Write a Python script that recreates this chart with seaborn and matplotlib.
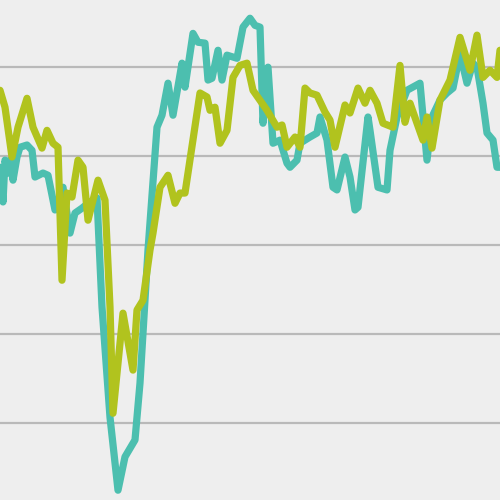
import numpy as np
import pandas as pd
import matplotlib
matplotlib.use("Agg")
import matplotlib.pyplot as plt
import seaborn as sns

# Period index for each series (both series share the same time axis)
teal_t = [0, 3, 5, 8, 10, 13, 17, 20, 27, 32, 35, 43, 48, 55, 63, 70, 75, 82, 88, 97,
          102, 110, 118, 125, 135, 140, 148, 157, 162, 168, 173, 182, 185, 193, 198, 205,
          208, 212, 218, 222, 227, 237, 243, 250, 255, 260, 263, 268, 273, 280, 287, 290,
          297, 300, 310, 317, 320, 327, 333, 337, 345, 350, 355, 358, 368, 370, 378, 387,
          390, 397, 407, 420, 427, 432, 440, 447, 453, 460, 467, 473, 477, 483, 487, 493,
          497, 500]
teal_v = [37.5, 29.7, 39.1, 36.2, 39.1, 34.6, 39.8, 42.0, 42.5, 41.3, 35.3, 36.2, 35.7,
          27.9, 33.0, 22.7, 27.2, 28.3, 29.4, 30.6, 6.1, -18.7, -35.1, -27.6, -23.8, -11.0,
          18.9, 46.5, 49.2, 56.4, 49.2, 60.9, 55.5, 67.6, 65.6, 65.4, 57.1, 57.5, 63.8, 57.1,
          62.7, 62.0, 69.0, 71.0, 69.4, 69.0, 47.4, 60.0, 42.9, 43.6, 38.4, 37.5, 39.1, 42.9,
          44.3, 45.2, 48.8, 43.6, 33.0, 32.4, 39.8, 35.3, 27.9, 28.5, 48.8, 45.8, 33.0, 32.4,
          41.3, 48.8, 54.8, 56.4, 39.1, 48.8, 52.6, 54.2, 55.3, 63.1, 56.4, 60.9, 60.0, 51.9,
          45.2, 43.6, 37.5, 37.5]

lime_t = [0, 5, 12, 18, 27, 33, 42, 47, 53, 58, 62, 67, 72, 78, 83, 88, 98, 105, 110, 113,
          123, 133, 137, 143, 150, 153, 160, 168, 175, 180, 185, 200, 207, 210, 215, 220,
          227, 233, 240, 247, 253, 267, 277, 282, 287, 295, 300, 305, 310, 317, 325, 330,
          335, 345, 350, 358, 365, 370, 377, 383, 393, 400, 405, 410, 417, 423, 427, 432,
          440, 450, 460, 470, 477, 483, 490, 497, 500]
lime_v = [54.8, 51.0, 39.8, 46.5, 53.0, 46.5, 41.8, 45.8, 42.9, 42.0, 12.1, 31.7, 30.8,
          39.1, 37.5, 25.6, 34.6, 30.1, 6.1, -17.8, 4.7, -8.1, 5.4, 7.6, 18.9, 22.7, 33.0,
          35.7, 29.4, 31.7, 31.7, 54.2, 53.3, 50.3, 51.0, 42.9, 45.8, 57.7, 60.4, 60.9, 54.8,
          50.3, 46.5, 47.0, 42.0, 44.3, 42.0, 55.3, 54.2, 53.7, 49.9, 48.1, 42.0, 51.5, 49.7,
          55.3, 51.9, 54.8, 51.9, 47.4, 46.5, 60.4, 47.6, 51.9, 47.4, 43.6, 48.8, 41.8, 52.6,
          57.1, 66.7, 59.3, 67.2, 57.7, 59.3, 57.7, 63.8]

grid_levels = [-20, 0, 20, 40, 60]

teal_color = "#4cbfaf"
lime_color = "#b1c31e"

sns.set_theme(style="whitegrid", rc={
    "axes.facecolor": "#eeeeee",
    "figure.facecolor": "#eeeeee",
    "grid.color": "#b9b9b9",
    "grid.linewidth": 1.6,
})

df = pd.concat([
    pd.DataFrame({"t": teal_t, "value": teal_v, "series": "teal"}),
    pd.DataFrame({"t": lime_t, "value": lime_v, "series": "lime"}),
])

fig = plt.figure(figsize=(5, 5), dpi=100)
ax = fig.add_axes([0, 0, 1, 1])

sns.lineplot(data=df, x="t", y="value", hue="series", estimator=None,
             palette={"teal": teal_color, "lime": lime_color},
             linewidth=5.2, legend=False, ax=ax,
             solid_joinstyle="round", solid_capstyle="round")

ax.set_xlim(0, 500)
ax.set_ylim(-37.3, 75.1)
ax.set_yticks(grid_levels)
ax.xaxis.grid(False)
ax.tick_params(left=False, bottom=False, labelleft=False, labelbottom=False)
ax.set_xlabel("")
ax.set_ylabel("")
for s in ax.spines.values():
    s.set_visible(False)

fig.savefig("out.png", dpi=100)
